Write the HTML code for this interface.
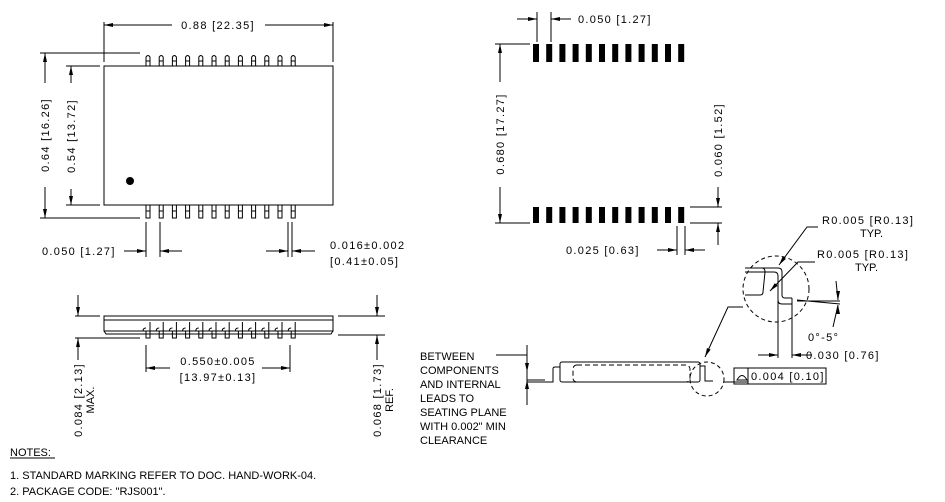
<!DOCTYPE html>
<html><head><meta charset="utf-8"><style>
html,body{margin:0;padding:0;background:#fff;}
svg text{font-family:"Liberation Sans",sans-serif;font-size:11px;fill:#000;}
svg text.d{letter-spacing:1.3px;}
</style></head><body>
<svg width="945" height="497" viewBox="0 0 945 497" xmlns="http://www.w3.org/2000/svg">
<defs>
<g id="lt"><path d="M0,11 V2 q2,-3 4,0 V11 M0,6 H4" stroke="#000" fill="none"/></g>
<g id="lb"><path d="M0,0 V13 H4 V0 M0,6 H4" stroke="#000" fill="none"/></g>
<g id="ls"><path d="M0,9 V16 H4 V0 M0,9 H-3 q0,-3 3,-3" stroke="#000" fill="none"/></g>
<g id="pd"><rect x="0" y="44" width="6" height="18"/><rect x="0" y="207" width="6" height="16"/></g>
</defs>
<g stroke="#000" stroke-width="1" fill="none">
<rect x="104" y="66" width="229" height="139"/>
<path d="M104,62 V22 M333,62 V22"/>
<path d="M104,25 H172 M265,25 H333"/>
<path d="M40,53 H140 M40,218 H140 M66,66 H100 M66,205 H100"/>
<path d="M45,53 V83 M45,187 V218 M71,66 V83 M71,189 V205"/>
<path d="M146,222 V257 M160,222 V257 M288,222 V257 M292,222 V257"/>
<path d="M124,251 H146 M182,251 H160 M266,251 H288 M315,251 H292"/>
<rect x="104" y="316" width="229" height="15"/>
<path d="M104,320 H333 M104,331 L106,334 H331 L333,331"/>
<path d="M75,316 H100 M75,338 H140 M338,316 H385 M338,335 H385"/>
<path d="M78,295 V316 M78,360 V338 M377,295 V316 M377,360 V335"/>
<path d="M146,345 V372 M290,345 V372 M170,368 H146 M262,368 H290"/>
<path d="M10,458 H55"/>
<path d="M537,12 V42 M551,12 V42 M517,19 H537 M571,19 H551"/>
<path d="M495,44 H530 M495,223 H530 M690,207 H722 M690,223 H722"/>
<path d="M500,44 V82 M500,187 V223 M718,187 V207 M718,245 V223"/>
<path d="M677,226 V255 M685,226 V255 M657,250 H677 M705,250 H685"/>
<circle cx="776" cy="289" r="33" stroke-dasharray="4,3"/>
<path d="M745,268 H762 q3,0 3,4 L763,292 q0,3 -3,3 H745"/>
<path d="M745,268 H778 q4,0 4,4 V295 q0,3 3,3 H792 M745,272 H774 q4,0 4,4 V300 q0,4 4,4 H792 M792,298 V304"/>
<path d="M778,300 V358 M792,300 V358 M758,355 H778 M812,355 H792"/>
<path d="M797,300 L840,304 M797,301 H840 M836,281 L838,300 M833,327 L838,305"/>
<path d="M818,227 H807 L779,265 M815,262 H798 L770,291 M743,307 H728 L705,357"/>
<rect x="560" y="362" width="140" height="20" rx="2"/>
<rect x="573" y="365" width="117" height="17" rx="4" stroke-dasharray="5,3"/>
<path d="M560,367 H555 q-2,0 -2,2 V382 H545 M700,366 H705 V381 H713"/>
<path d="M573,382 H690" stroke-dasharray="1,1"/>
<circle cx="707" cy="379" r="17" stroke-dasharray="4,3"/>
<path d="M724,382 H748"/>
<rect x="734" y="368" width="92" height="16"/><path d="M748,368 V384 M737,380 q5,-9 10,0 z"/>
<path d="M496,355 H527 V405 M527,345 V372 M527,395 V380 M527,380 H545 M527,382 H545"/>
</g>
<g>
<use href="#lt" x="146" y="55"/><use href="#lt" x="159.2" y="55"/><use href="#lt" x="172.4" y="55"/><use href="#lt" x="185.6" y="55"/><use href="#lt" x="198.8" y="55"/><use href="#lt" x="212" y="55"/><use href="#lt" x="225.2" y="55"/><use href="#lt" x="238.4" y="55"/><use href="#lt" x="251.6" y="55"/><use href="#lt" x="264.8" y="55"/><use href="#lt" x="278" y="55"/><use href="#lt" x="291.2" y="55"/>
<use href="#lb" x="146" y="205"/><use href="#lb" x="159.2" y="205"/><use href="#lb" x="172.4" y="205"/><use href="#lb" x="185.6" y="205"/><use href="#lb" x="198.8" y="205"/><use href="#lb" x="212" y="205"/><use href="#lb" x="225.2" y="205"/><use href="#lb" x="238.4" y="205"/><use href="#lb" x="251.6" y="205"/><use href="#lb" x="264.8" y="205"/><use href="#lb" x="278" y="205"/><use href="#lb" x="291.2" y="205"/>
<use href="#ls" x="146" y="322"/><use href="#ls" x="159.2" y="322"/><use href="#ls" x="172.4" y="322"/><use href="#ls" x="185.6" y="322"/><use href="#ls" x="198.8" y="322"/><use href="#ls" x="212" y="322"/><use href="#ls" x="225.2" y="322"/><use href="#ls" x="238.4" y="322"/><use href="#ls" x="251.6" y="322"/><use href="#ls" x="264.8" y="322"/><use href="#ls" x="278" y="322"/><use href="#ls" x="291.2" y="322"/>
</g>
<g fill="#000">
<use href="#pd" x="533"/><use href="#pd" x="546.2"/><use href="#pd" x="559.4"/><use href="#pd" x="572.6"/><use href="#pd" x="585.8"/><use href="#pd" x="599"/><use href="#pd" x="612.2"/><use href="#pd" x="625.4"/><use href="#pd" x="638.6"/><use href="#pd" x="651.8"/><use href="#pd" x="665"/><use href="#pd" x="678.2"/>
<circle cx="130" cy="181" r="4"/>
<polygon points="104,25 113,23 113,27"/><polygon points="333,25 324,23 324,27"/>
<polygon points="45,53 43,62 47,62"/><polygon points="45,218 43,209 47,209"/>
<polygon points="71,66 69,75 73,75"/><polygon points="71,205 69,196 73,196"/>
<polygon points="146,251 137,249 137,253"/><polygon points="160,251 169,249 169,253"/>
<polygon points="288,251 279,249 279,253"/><polygon points="292,251 301,249 301,253"/>
<polygon points="78,316 76,307 80,307"/><polygon points="78,338 76,347 80,347"/>
<polygon points="377,316 375,307 379,307"/><polygon points="377,335 375,344 379,344"/>
<polygon points="146,368 155,366 155,370"/><polygon points="290,368 281,366 281,370"/>
<polygon points="537,19 528,17 528,21"/><polygon points="551,19 560,17 560,21"/>
<polygon points="500,44 498,53 502,53"/><polygon points="500,223 498,214 502,214"/>
<polygon points="718,207 716,198 720,198"/><polygon points="718,223 716,232 720,232"/>
<polygon points="677,250 668,248 668,252"/><polygon points="685,250 694,248 694,252"/>
<polygon points="778,355 769,353 769,357"/><polygon points="792,355 801,353 801,357"/>
<polygon points="838,300 836,291 840,291"/><polygon points="838,305 836,314 840,314"/>
<polygon points="779,265 785.9,258.9 782.7,256.5"/>
<polygon points="770,291 777.6,285.9 774.8,283.1"/>
<polygon points="705,357 710.6,349.6 707,348"/>
<polygon points="527,372 525,363 529,363"/><polygon points="527,380 525,389 529,389"/>
</g>
<text class="d" x="218" y="29" text-anchor="middle">0.88  [22.35]</text>
<text class="d" transform="translate(49,135) rotate(-90)" text-anchor="middle">0.64  [16.26]</text>
<text class="d" transform="translate(75,136) rotate(-90)" text-anchor="middle">0.54  [13.72]</text>
<text class="d" x="42" y="255">0.050  [1.27]</text>
<text class="d" x="330" y="249">0.016±0.002</text>
<text class="d" x="330" y="265">[0.41±0.05]</text>
<text class="d" x="218" y="365" text-anchor="middle">0.550±0.005</text>
<text class="d" x="218" y="381" text-anchor="middle">[13.97±0.13]</text>
<text class="d" transform="translate(82,400) rotate(-90)" text-anchor="middle">0.084 [2.13]</text>
<text transform="translate(94,400) rotate(-90)" text-anchor="middle">MAX.</text>
<text class="d" transform="translate(381,400) rotate(-90)" text-anchor="middle">0.068 [1.73]</text>
<text transform="translate(393,400) rotate(-90)" text-anchor="middle">REF.</text>
<text x="10" y="456">NOTES:</text>
<text x="10" y="479">1. STANDARD MARKING REFER TO DOC. HAND-WORK-04.</text>
<text x="10" y="495">2. PACKAGE CODE: "RJS001".</text>
<text class="d" x="578" y="23">0.050  [1.27]</text>
<text class="d" transform="translate(504,134) rotate(-90)" text-anchor="middle">0.680  [17.27]</text>
<text class="d" transform="translate(722,140) rotate(-90)" text-anchor="middle">0.060  [1.52]</text>
<text class="d" x="566" y="254">0.025  [0.63]</text>
<text class="d" x="822" y="224">R0.005  [R0.13]</text>
<text x="860" y="237">TYP.</text>
<text class="d" x="817" y="258">R0.005  [R0.13]</text>
<text x="855" y="271">TYP.</text>
<text class="d" x="808" y="341">0°-5°</text>
<text class="d" x="806" y="359">0.030  [0.76]</text>
<text class="d" x="751" y="380">0.004  [0.10]</text>
<text x="420" y="360">BETWEEN</text>
<text x="420" y="374">COMPONENTS</text>
<text x="420" y="388">AND INTERNAL</text>
<text x="420" y="402">LEADS TO</text>
<text x="420" y="416">SEATING PLANE</text>
<text x="420" y="430">WITH 0.002" MIN</text>
<text x="420" y="444">CLEARANCE</text>
</svg>
</body></html>
